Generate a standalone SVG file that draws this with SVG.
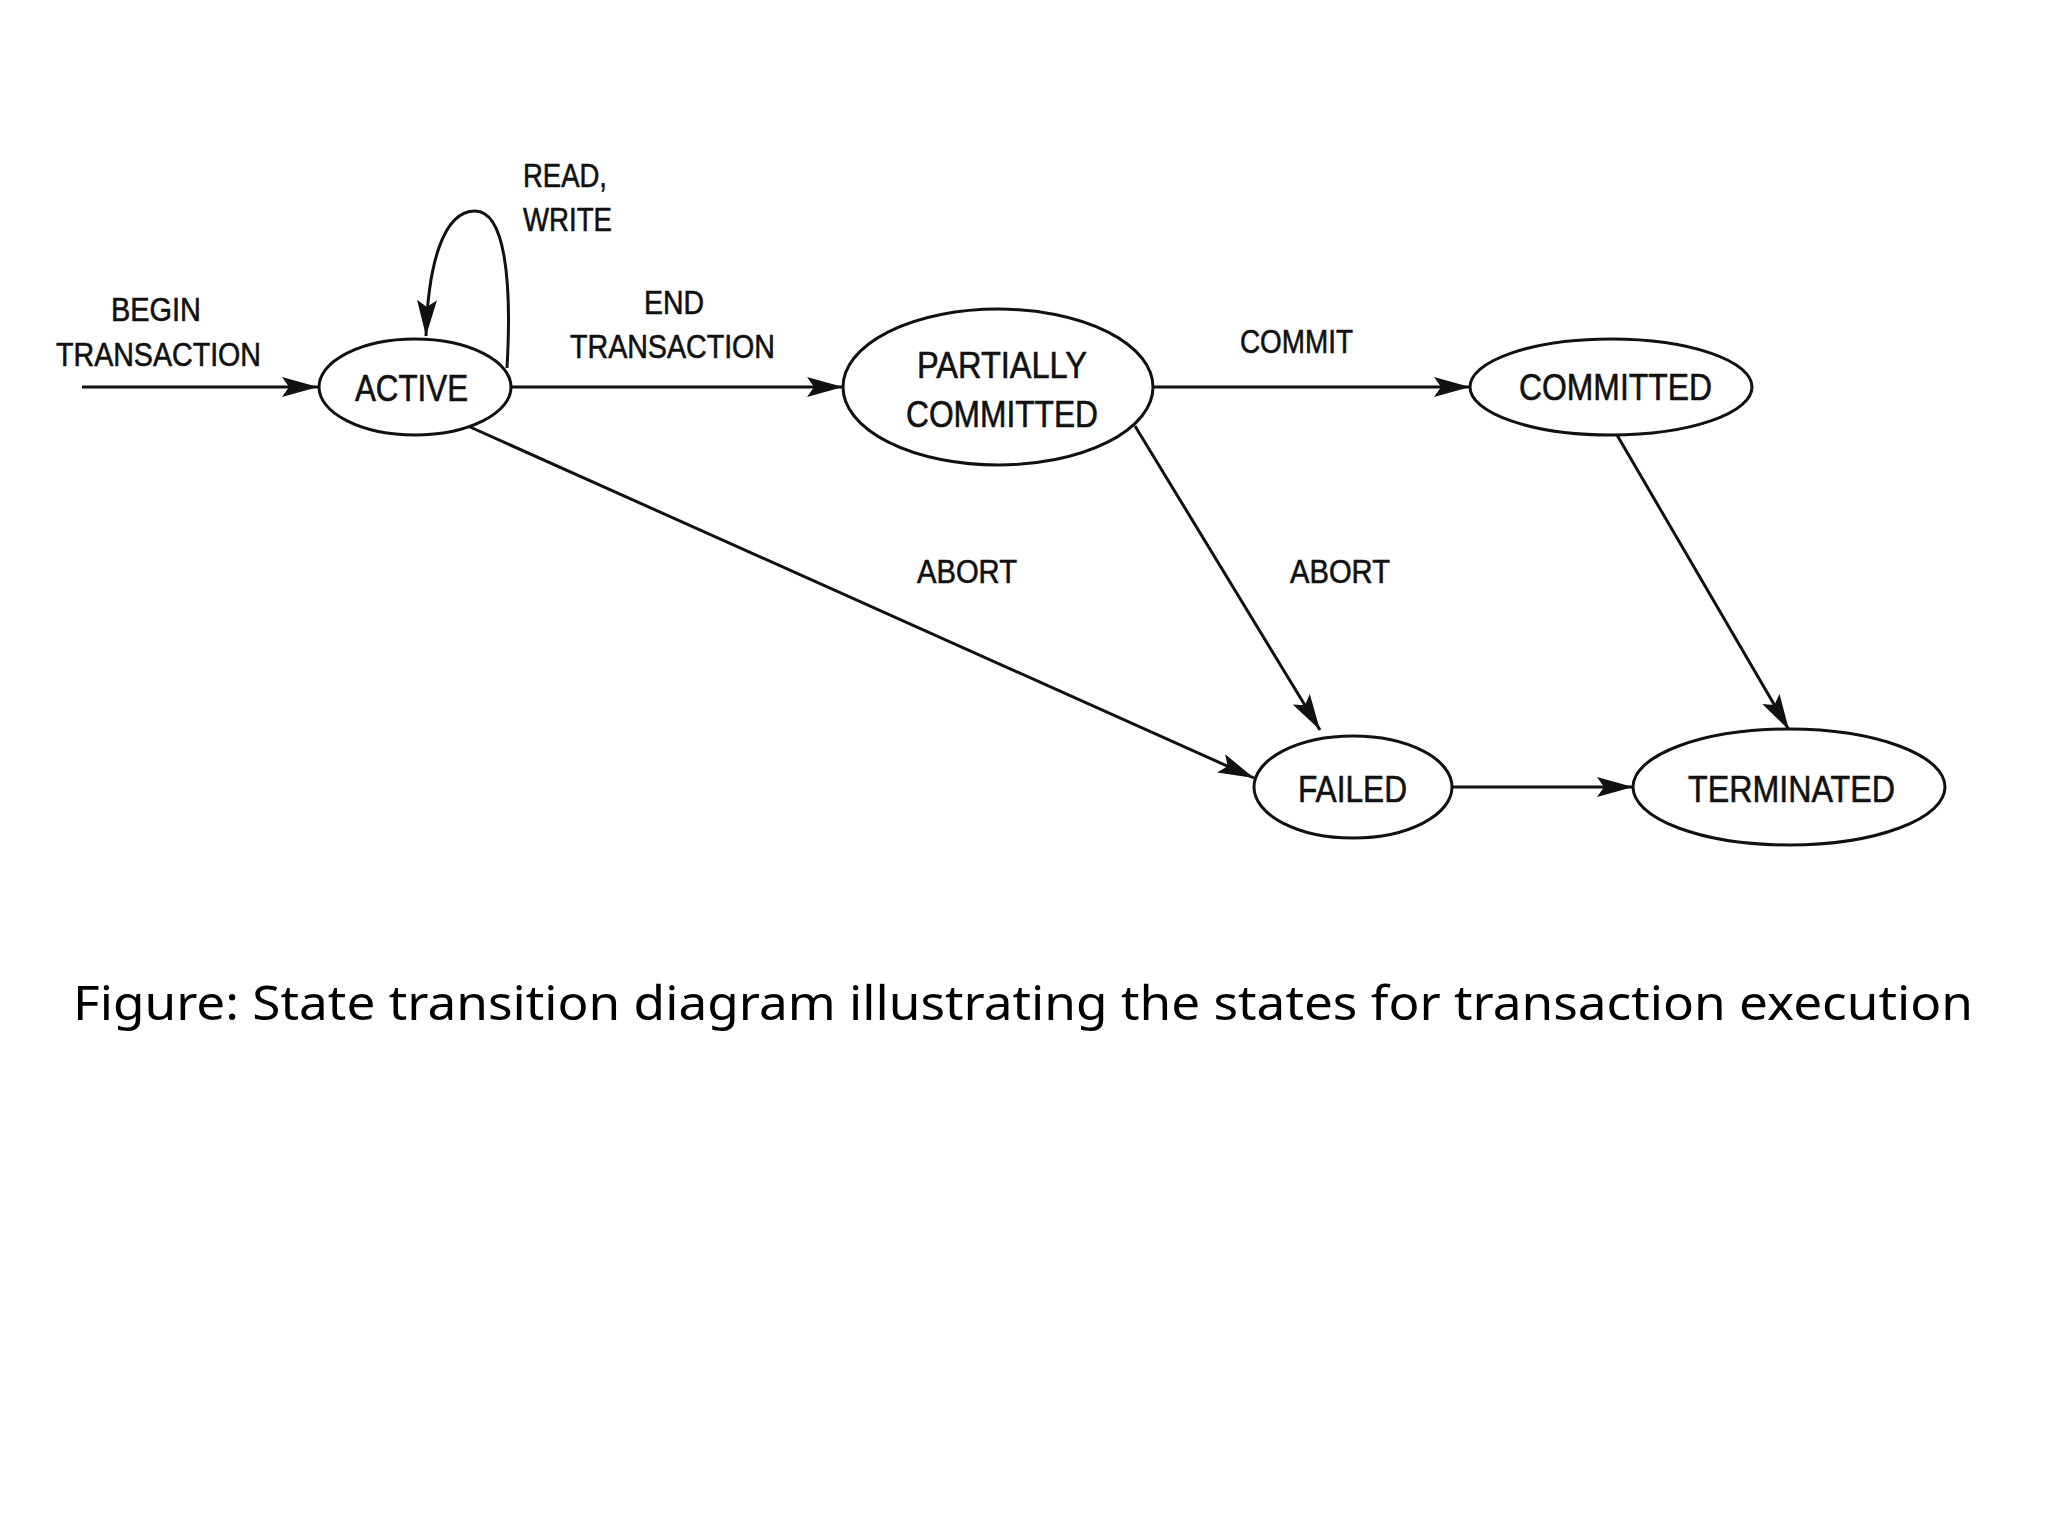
<svg xmlns="http://www.w3.org/2000/svg" width="2048" height="1536" viewBox="0 0 2048 1536">
<defs>
<style>
.bg{fill:#ffffff}
.node{fill:#ffffff;stroke:#111111;stroke-width:3}
.edge{fill:none;stroke:#111111;stroke-width:3}
.lbl{font-family:"Liberation Sans",Arial,Helvetica,sans-serif;fill:#111111;stroke:#111111;stroke-width:0.6}
.nl{font-size:37px}
.el{font-size:33px}
.cap{font-family:"Noto Sans","Open Sans",sans-serif;font-size:47px;fill:#000000}
</style>
<marker id="arr" markerUnits="userSpaceOnUse" markerWidth="40" markerHeight="24" refX="36" refY="10" orient="auto">
<path d="M0,0 L36,10 L0,20 L7,10 Z" fill="#111111"/>
</marker>
</defs>
<rect class="bg" x="0" y="0" width="2048" height="1536"/>

<g id="connectors">
<path class="edge" d="M82 387 L318 387" marker-end="url(#arr)"/>
<path class="edge" d="M507 368 C512 280 505 211 475 211 C443 211 428 265 426 336" marker-end="url(#arr)"/>
<path class="edge" d="M511 387 L843 387" marker-end="url(#arr)"/>
<path class="edge" d="M1153 387 L1470 387" marker-end="url(#arr)"/>
<path class="edge" d="M470 427 L1254 778" marker-end="url(#arr)"/>
<path class="edge" d="M1135 426 L1320 730" marker-end="url(#arr)"/>
<path class="edge" d="M1617 435 L1789 730" marker-end="url(#arr)"/>
<path class="edge" d="M1452 787 L1633 787" marker-end="url(#arr)"/>
</g>

<g id="edge-labels">
<text class="lbl el" x="111" y="321" textLength="90" lengthAdjust="spacingAndGlyphs">BEGIN</text>
<text class="lbl el" x="56" y="366" textLength="205" lengthAdjust="spacingAndGlyphs">TRANSACTION</text>
<text class="lbl el" x="523" y="187" textLength="84" lengthAdjust="spacingAndGlyphs">READ,</text>
<text class="lbl el" x="523" y="231" textLength="89" lengthAdjust="spacingAndGlyphs">WRITE</text>
<text class="lbl el" x="644" y="314" textLength="60" lengthAdjust="spacingAndGlyphs">END</text>
<text class="lbl el" x="570" y="358" textLength="205" lengthAdjust="spacingAndGlyphs">TRANSACTION</text>
<text class="lbl el" x="1240" y="353" textLength="113" lengthAdjust="spacingAndGlyphs">COMMIT</text>
<text class="lbl el" x="917" y="583" textLength="100" lengthAdjust="spacingAndGlyphs">ABORT</text>
<text class="lbl el" x="1290" y="583" textLength="100" lengthAdjust="spacingAndGlyphs">ABORT</text>
</g>

<g id="node-active">
<ellipse class="node" cx="415" cy="387" rx="96" ry="48"/>
<text class="lbl nl" x="355" y="401" textLength="113" lengthAdjust="spacingAndGlyphs">ACTIVE</text>
</g>
<g id="node-partially-committed">
<ellipse class="node" cx="998" cy="387" rx="155" ry="78"/>
<text class="lbl nl" x="917" y="378" textLength="170" lengthAdjust="spacingAndGlyphs">PARTIALLY</text>
<text class="lbl nl" x="906" y="427" textLength="192" lengthAdjust="spacingAndGlyphs">COMMITTED</text>
</g>
<g id="node-committed">
<ellipse class="node" cx="1611" cy="387" rx="141" ry="48"/>
<text class="lbl nl" x="1519" y="400" textLength="193" lengthAdjust="spacingAndGlyphs">COMMITTED</text>
</g>
<g id="node-failed">
<ellipse class="node" cx="1353" cy="787" rx="99" ry="51"/>
<text class="lbl nl" x="1298" y="802" textLength="109" lengthAdjust="spacingAndGlyphs">FAILED</text>
</g>
<g id="node-terminated">
<ellipse class="node" cx="1789" cy="787" rx="156" ry="58"/>
<text class="lbl nl" x="1688" y="802" textLength="207" lengthAdjust="spacingAndGlyphs">TERMINATED</text>
</g>

<text class="cap" x="73" y="1020" textLength="1900" lengthAdjust="spacingAndGlyphs">Figure: State transition diagram illustrating the states for transaction execution</text>
</svg>
